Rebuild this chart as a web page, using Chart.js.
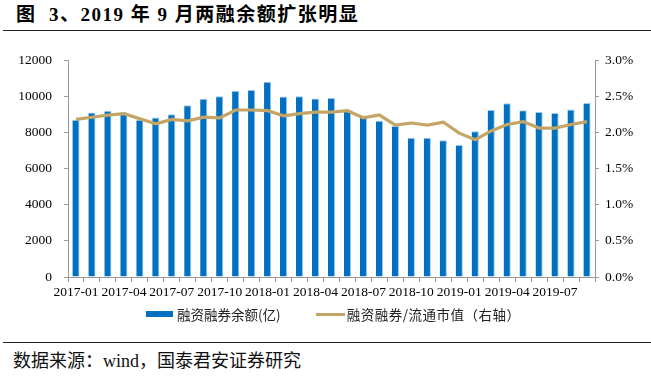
<!DOCTYPE html>
<html>
<head>
<meta charset="utf-8">
<script src="https://cdn.jsdelivr.net/npm/chart.js@4"></script>
<style>
  body { margin: 0; width: 651px; height: 377px; background: #fff; position: relative; overflow: hidden; }
  .title { position: absolute; left: 16px; top: 4px; font: bold 19px/22px "Liberation Serif", "Noto Sans CJK SC"; letter-spacing: 1.5px; color: #000; white-space: pre; }
  .rule { position: absolute; left: 3px; right: 0; height: 0; border-top: 1.5px solid #222; }
  #wrap { position: absolute; left: 0; top: 40px; width: 651px; height: 265px; }
  .legend { position: absolute; top: 306px; left: 146px; font: 13.5px/16px "Noto Sans CJK SC"; color: #222; display: flex; align-items: center; }
  .sw-bar { width: 27px; height: 6px; background: #0070C0; margin-right: 4px; }
  .sw-line { width: 29px; height: 3px; background: #C4A566; margin: 0 2px 0 35px; }
  .source { position: absolute; left: 13px; top: 350px; font: 18px/22px "Liberation Serif", "Noto Sans CJK SC"; color: #111; }
</style>
</head>
<body>
<div class="title">图  3、2019 年 9 月两融余额扩张明显</div>
<div class="rule" style="top:30px"></div>
<div id="wrap"><canvas id="chart"></canvas></div>
<div class="legend">
  <span class="sw-bar"></span><span>融资融券余额(亿)</span>
  <span class="sw-line"></span><span style="letter-spacing:0.5px">融资融券/流通市值（右轴）</span>
</div>
<div class="rule" style="top:342px"></div>
<div class="source">数据来源：wind，国泰君安证券研究</div>

<script>
// --- Data ---
const months = [
    '2017-01', '2017-02', '2017-03', '2017-04', '2017-05', '2017-06',
    '2017-07', '2017-08', '2017-09', '2017-10', '2017-11', '2017-12',
    '2018-01', '2018-02', '2018-03', '2018-04', '2018-05', '2018-06',
    '2018-07', '2018-08', '2018-09', '2018-10', '2018-11', '2018-12',
    '2019-01', '2019-02', '2019-03', '2019-04', '2019-05', '2019-06',
    '2019-07', '2019-08', '2019-09'
];

// 融资融券余额 (亿)
const marginBalance = [
    8700, 9100, 9200, 9120, 8700, 8820, 9000, 9500, 9860, 10000, 10300,
    10350, 10800, 9980, 10000, 9880, 9900, 9240, 8940, 8650, 8360, 7700,
    7700, 7560, 7300, 8060, 9240, 9610, 9230, 9130, 9080, 9270, 9620
];

// 融资融券/流通市值 (%)
const marginRatio = [
    2.18, 2.21, 2.24, 2.26, 2.19, 2.12, 2.18, 2.16, 2.21, 2.20, 2.31,
    2.31, 2.30, 2.23, 2.26, 2.28, 2.28, 2.30, 2.20, 2.24, 2.10, 2.13,
    2.10, 2.14, 1.99, 1.90, 2.02, 2.11, 2.15, 2.06, 2.06, 2.11, 2.15
];

const leftTicks = { min: 0, max: 12000, step: 2000 };
const rightTicks = { min: 0, max: 3, step: 0.5 };

// --- Chart ---
const axisColor = '#999';
const tickFont = { family: 'Liberation Serif', size: 13.5 };

new Chart(document.getElementById('chart'), {
    type: 'bar',
    data: {
        labels: months,
        datasets: [
            {
                type: 'line',
                label: '融资融券/流通市值（右轴）',
                data: marginRatio,
                yAxisID: 'y1',
                borderColor: '#C4A566',
                borderWidth: 3.2,
                pointRadius: 0,
                tension: 0,
                order: 0
            },
            {
                label: '融资融券余额(亿)',
                data: marginBalance,
                yAxisID: 'y',
                backgroundColor: '#0070C0',
                borderColor: '#9CC8EC',
                borderWidth: { top: 1, left: 0, right: 1, bottom: 0 },
                categoryPercentage: 1,
                barPercentage: 0.45,
                order: 1
            }
        ]
    },
    options: {
        responsive: true,
        maintainAspectRatio: false,
        animation: false,
        layout: { padding: { top: 14, left: 0, right: 0, bottom: 0 } },
        plugins: { legend: { display: false }, tooltip: { enabled: false } },
        scales: {
            x: {
                offset: true,
                grid: { offset: true, drawOnChartArea: false, drawTicks: true, tickLength: 5, color: axisColor },
                border: { display: true, color: axisColor },
                ticks: {
                    autoSkip: false,
                    maxRotation: 0,
                    padding: 2,
                    color: '#000',
                    font: tickFont,
                    callback: (v, i) => (i % 3 === 0 ? months[i] : '')
                },
                afterFit: s => { s.height = 28; }
            },
            y: {
                position: 'left',
                min: leftTicks.min,
                max: leftTicks.max,
                grid: { drawOnChartArea: false, drawTicks: true, tickLength: 4, color: axisColor },
                border: { display: true, color: axisColor },
                ticks: { stepSize: leftTicks.step, padding: 12, color: '#000', font: tickFont, callback: v => String(v) },
                afterFit: s => { s.width = 68; }
            },
            y1: {
                position: 'right',
                min: rightTicks.min,
                max: rightTicks.max,
                grid: { drawOnChartArea: false, drawTicks: true, tickLength: 4, color: axisColor },
                border: { display: true, color: axisColor },
                ticks: {
                    stepSize: rightTicks.step,
                    padding: 6,
                    color: '#000',
                    font: tickFont,
                    callback: v => v.toFixed(1) + '%'
                },
                afterFit: s => { s.width = 56; }
            }
        }
    }
});
</script>
</body>
</html>
